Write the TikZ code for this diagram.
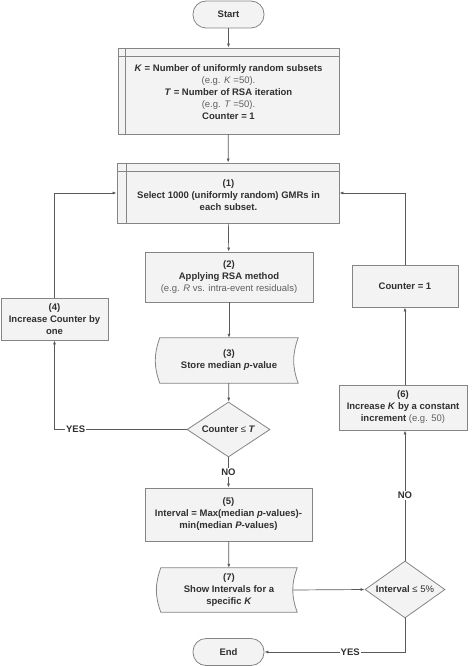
\documentclass[tikz,border=0pt]{standalone}
\usepackage{fontspec}
\setmainfont{Liberation Sans}
\usetikzlibrary{arrows.meta,shapes.geometric}
\definecolor{boxfill}{HTML}{F3F3F3}
\definecolor{boxline}{HTML}{858585}
\definecolor{conn}{HTML}{5A5A5A}
\definecolor{txt}{HTML}{303030}
\definecolor{soft}{HTML}{606060}
\newcommand{\eg}[1]{{\mdseries\color{soft}#1}}
\begin{document}
\begin{tikzpicture}[x=1pt,y=-1pt,
  every node/.style={font=\fontsize{9.5}{12}\selectfont\bfseries, text=txt, align=center, inner sep=0pt},
  procbox/.style={draw=boxline, fill=boxfill, line width=0.8pt, rectangle},
  termbox/.style={draw=boxline, fill=boxfill, line width=0.8pt, rectangle, rounded corners=13pt},
  decbox/.style={draw=boxline, fill=boxfill, line width=0.8pt, diamond, aspect=1.5},
  plainbox/.style={rectangle},
  arr/.style={draw=conn, line width=0.7pt, -{Latex[length=4pt,width=3pt]}},
  lbl/.style={fill=white, inner sep=1pt}
]
\useasboundingbox (0,0) rectangle (474,666);

% nodes
\node[termbox, minimum width=71pt, minimum height=27pt] (start) at (228.5,14.5) {Start};

\node[procbox, minimum width=221pt, minimum height=86pt] (init) at (228.5,91) {};
\draw[boxline, line width=0.8pt] ([yshift=-9pt]init.north west) -- ([yshift=-9pt]init.north east);
\draw[boxline, line width=0.8pt] ([xshift=8pt]init.north west) -- ([xshift=8pt]init.south west);
\node (inittext) at (228.5,92) {\textit{K} = Number of uniformly random subsets\\ \eg{(e.g. \textit{K} =50).}\\ \textit{T} = Number of RSA iteration\\ \eg{(e.g. \textit{T} =50).}\\ Counter = 1};

\node[procbox, minimum width=222pt, minimum height=60pt] (box1) at (228,193) {};
\draw[boxline, line width=0.8pt] ([yshift=-9pt]box1.north west) -- ([yshift=-9pt]box1.north east);
\draw[boxline, line width=0.8pt] ([xshift=10pt]box1.north west) -- ([xshift=10pt]box1.south west);
\node (box1text) at (228.5,195) {(1)\\ Select 1000 (uniformly random) GMRs in\\ each subset.};

\node[procbox, minimum width=168pt, minimum height=50pt] (box2) at (229,277) {(2)\\ Applying RSA method\\ \eg{(e.g. \textit{R} vs. intra-event residuals)}};

\node[plainbox, minimum width=138pt, minimum height=45pt] (store) at (229,360.5) {};
\draw[draw=boxline, fill=boxfill, line width=0.8pt] (store.north west) to[bend right=20] (store.south west) -- (store.south east) to[bend left=20] (store.north east) -- cycle;
\node at (store) {(3)\\ Store median \textit{p}-value};

\node[decbox, minimum width=83pt, minimum height=55pt] (d1) at (228.5,429.5) {Counter {\mdseries≤} \textit{T}};

\node[procbox, minimum width=107pt, minimum height=42pt] (b4) at (54.5,319) {(4)\\ Increase Counter by\\ one};

\node[procbox, minimum width=167pt, minimum height=53pt] (b5) at (228.5,514.5) {(5)\\ Interval = Max(median \textit{p}-values)-\\ min(median \textit{P}-values)};

\node[plainbox, minimum width=136pt, minimum height=44pt] (show) at (229,590) {};
\draw[draw=boxline, fill=boxfill, line width=0.8pt] (show.north west) to[bend right=20] (show.south west) -- (show.south east) to[bend left=20] (show.north east) -- cycle;
\node at (show) {(7)\\ Show Intervals for a\\ specific \textit{K}};

\node[decbox, minimum width=80pt, minimum height=57pt] (d2) at (405,589.5) {Interval {\mdseries≤ 5\%}};

\node[procbox, minimum width=128pt, minimum height=45pt] (b6) at (403,407.5) {(6)\\ Increase \textit{K} by a constant\\ increment \eg{(e.g. 50)}};

\node[procbox, minimum width=106pt, minimum height=42pt] (cnt) at (405,286) {Counter = 1};

\node[termbox, minimum width=71pt, minimum height=27pt] (end) at (228.5,652) {End};

% connectors
\draw[arr] (start) -- (init);
\draw[arr] (init) -- (box1);
\draw[arr] (box1) -- (box2);
\draw[arr] (box2) -- (store);
\draw[arr] (store) -- (d1);
\draw[arr] (d1.west) -| node[lbl, pos=0.42] {YES} (b4.south);
\draw[arr] (b4.north) |- (box1.west);
\draw[arr] (d1.south) -- node[lbl, pos=0.5] {NO} (b5.north);
\draw[arr] (b5) -- (show);
\draw[arr] ([xshift=-4pt]show.east) -- (d2.west);
\draw[arr] (d2.north) -- node[lbl, pos=0.5] {NO} (d2.north |- b6.south);
\draw[arr] (d2.north |- b6.north) -- (cnt.south);
\draw[arr] (cnt.north) |- (box1.east);
\draw[arr] (d2.south) |- node[lbl, pos=0.695] {YES} (end.east);
\end{tikzpicture}
\end{document}
